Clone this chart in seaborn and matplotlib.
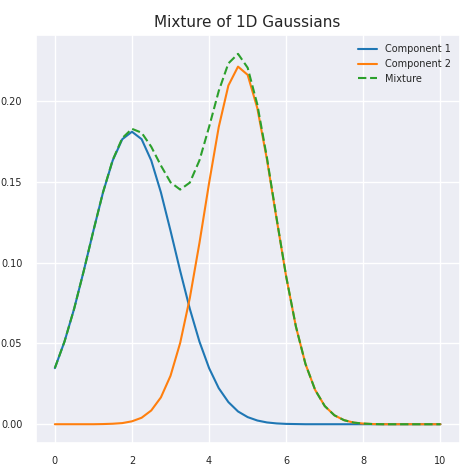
import numpy as np
import pandas as pd
import seaborn as sns
import matplotlib
matplotlib.use("Agg")
import matplotlib.pyplot as plt

x = [i * 0.25 for i in range(41)]
comp1 = [0.0347, 0.0511, 0.0714, 0.0949, 0.1197, 0.1435, 0.1632, 0.1764, 0.1810,
         0.1764, 0.1632, 0.1435, 0.1197, 0.0949, 0.0714, 0.0511, 0.0347, 0.0223,
         0.0137, 0.0079, 0.0044, 0.0023, 0.0011, 0.0005, 0.0002, 0.0001] + [0.0] * 15
comp2 = [0.0] * 5 + [0.0001, 0.0003, 0.0007, 0.0018, 0.0040, 0.0085, 0.0166, 0.0300,
         0.0503, 0.0781, 0.1122, 0.1493, 0.1839, 0.2096, 0.2213, 0.2162, 0.1956,
         0.1638, 0.1270, 0.0911, 0.0605, 0.0372, 0.0212, 0.0112, 0.0055, 0.0025,
         0.0010, 0.0004, 0.0001] + [0.0] * 7
mixture = [a + b for a, b in zip(comp1, comp2)]

sns.set_theme(style="darkgrid", rc={"axes.facecolor": "#ECEDF4", "lines.solid_joinstyle": "round",
                                    "lines.dash_joinstyle": "round"})
fig, ax = plt.subplots(figsize=(4.74, 4.71), dpi=100)
sns.lineplot(x=x, y=comp1, ax=ax, label="Component 1", color="#1f77b4", lw=1.5)
sns.lineplot(x=x, y=comp2, ax=ax, label="Component 2", color="#ff7f0e", lw=1.5)
sns.lineplot(x=x, y=mixture, ax=ax, label="Mixture", color="#2ca02c", lw=1.5, linestyle=(0, (4, 1.8)))
ax.set_title("Mixture of 1D Gaussians", fontsize=11)
ax.set_xticks([0, 2, 4, 6, 8, 10])
ax.set_yticks([0.0, 0.05, 0.10, 0.15, 0.20])
ax.set_yticklabels(["0.00", "0.05", "0.10", "0.15", "0.20"])
ax.tick_params(labelsize=7)
ax.legend(loc="upper right", fontsize=7, frameon=False)
fig.subplots_adjust(left=0.075, right=0.97, bottom=0.06, top=0.925)
fig.savefig("out.png", dpi=100)
